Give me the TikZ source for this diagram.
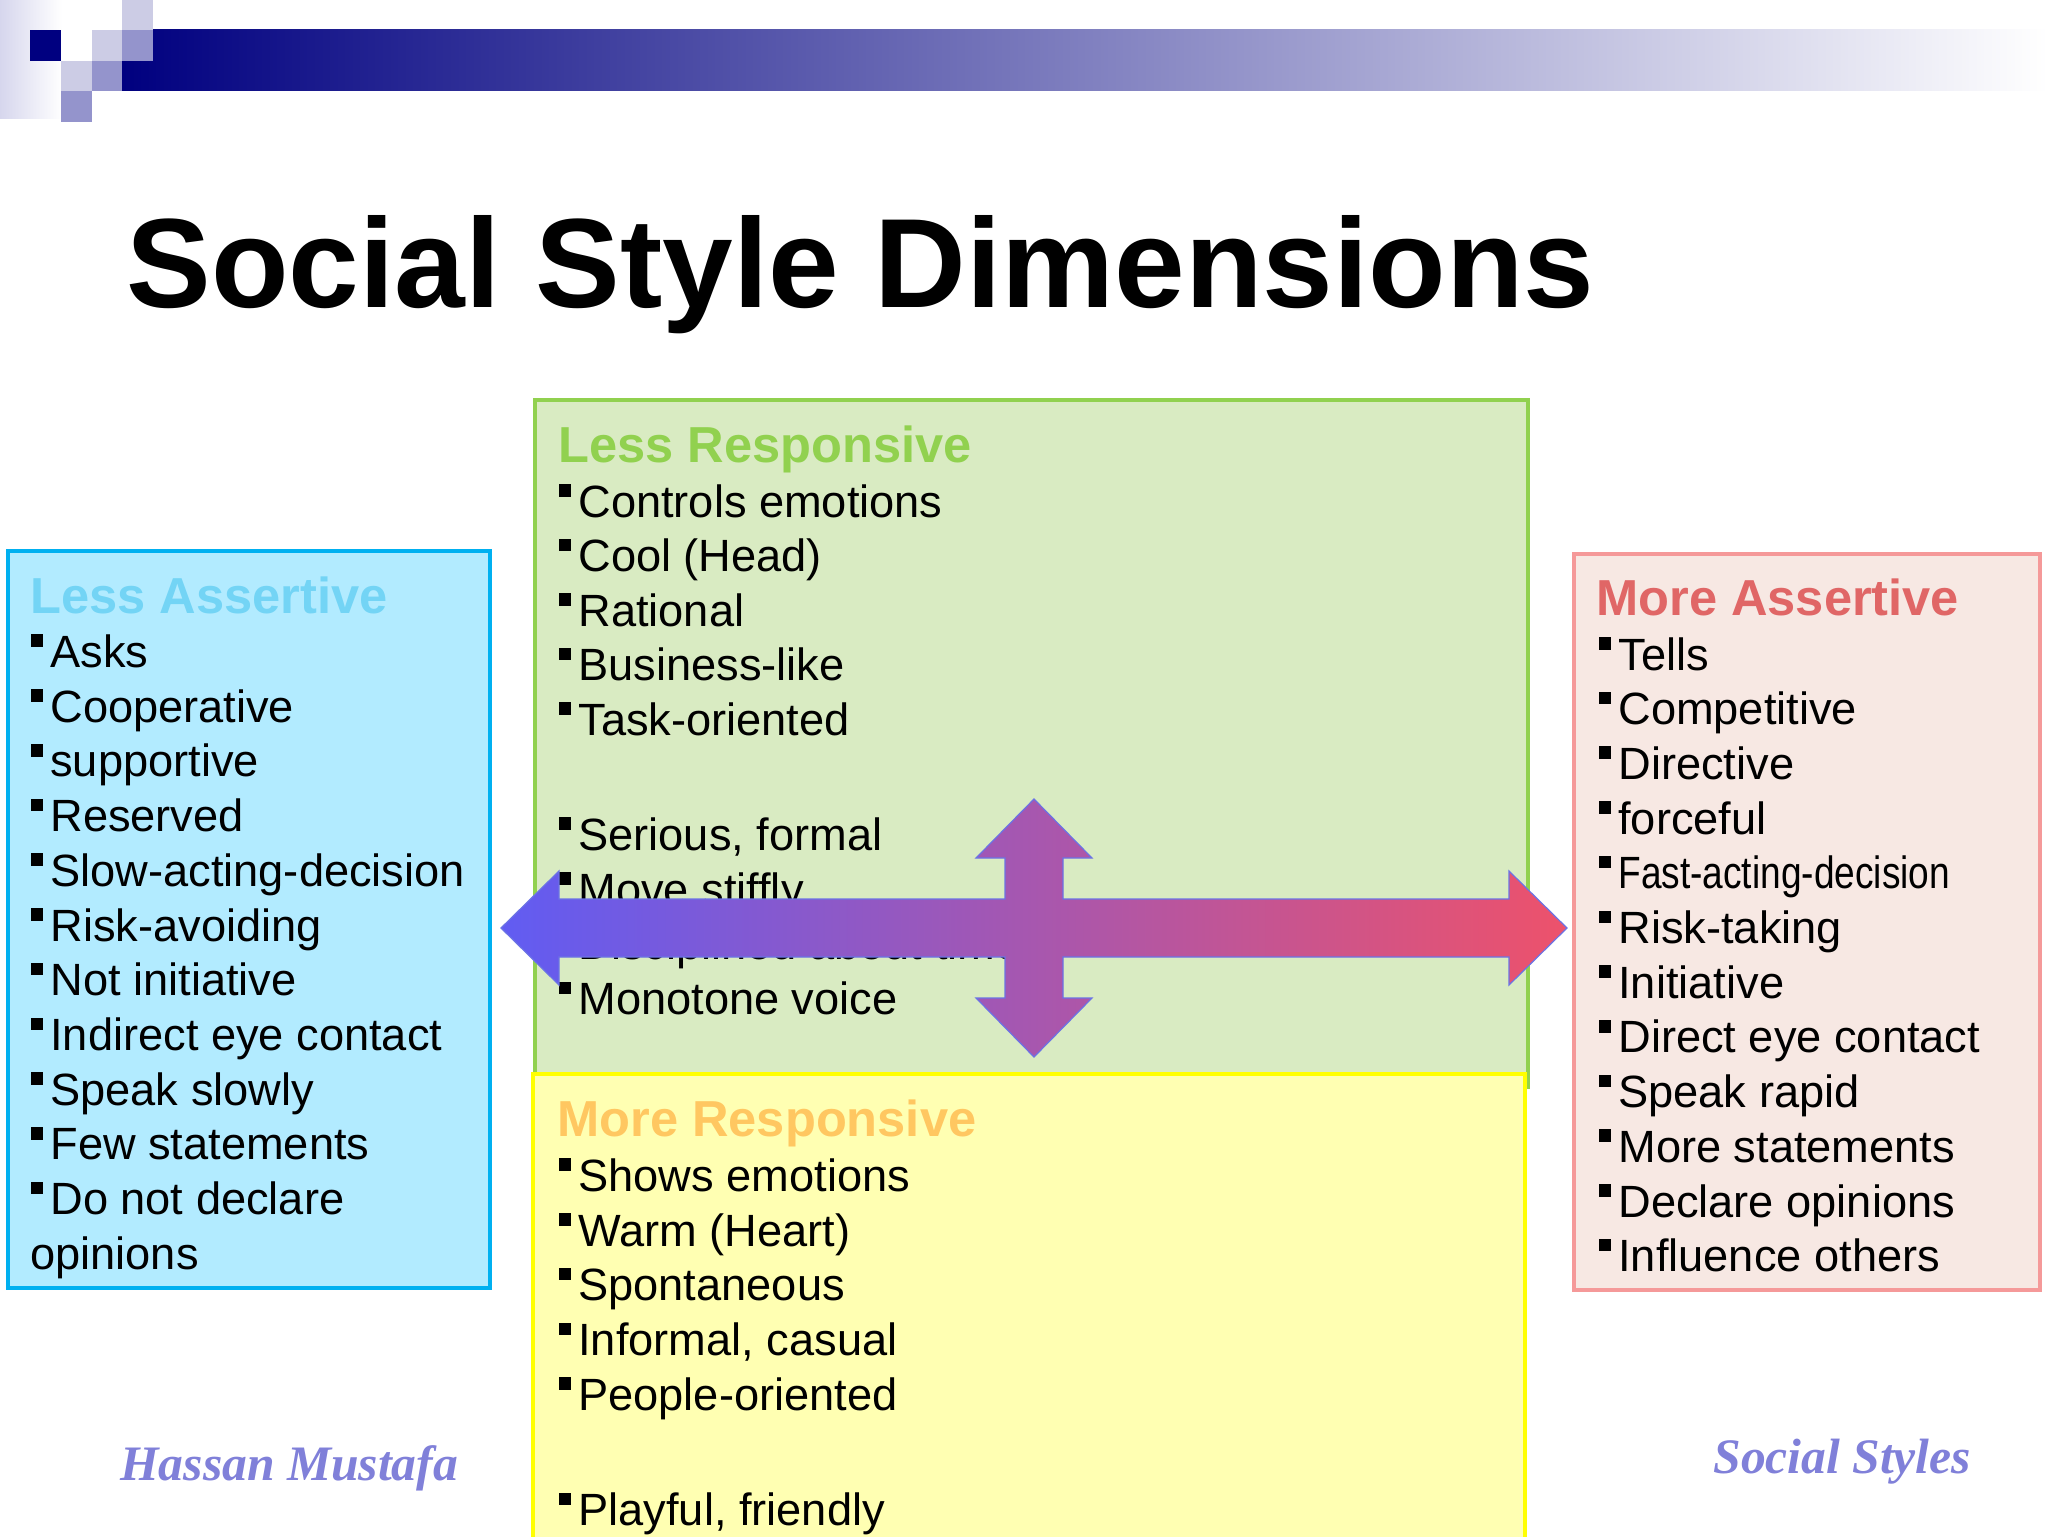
\documentclass[tikz,border=0pt]{standalone}
\usepackage{fontspec}
\setmainfont{Liberation Sans}
\newfontfamily\footfont{Liberation Serif}
\usetikzlibrary{shadings}
\definecolor{navy}{rgb}{0,0,0.5}
\definecolor{sqlight}{rgb}{0.80,0.80,0.90}
\definecolor{sqmed}{rgb}{0.58,0.58,0.80}
\definecolor{sidefade}{rgb}{0.84,0.84,0.93}
\definecolor{grfill}{rgb}{0.85,0.92,0.76}
\definecolor{grline}{rgb}{0.57,0.82,0.31}
\definecolor{yefill}{rgb}{1,1,0.70}
\definecolor{yeline}{rgb}{1,1,0}
\definecolor{blfill}{rgb}{0.70,0.92,1}
\definecolor{blline}{rgb}{0,0.69,0.94}
\definecolor{pkfill}{rgb}{0.97,0.91,0.89}
\definecolor{pkline}{rgb}{0.96,0.60,0.60}
\definecolor{hgreen}{rgb}{0.57,0.82,0.31}
\definecolor{hblue}{rgb}{0.45,0.83,0.96}
\definecolor{hpink}{rgb}{0.88,0.40,0.40}
\definecolor{hyellow}{rgb}{1,0.78,0.38}
\definecolor{arrL}{rgb}{0.38,0.36,0.95}
\definecolor{arrM}{rgb}{0.62,0.33,0.70}
\definecolor{arrR}{rgb}{0.93,0.32,0.42}
\definecolor{arrline}{rgb}{0.42,0.45,0.90}
\definecolor{footc}{rgb}{0.50,0.50,0.85}
\newcommand{\sqbul}{\rule[0.45em]{0.26em}{0.28em}\hspace{0.16em}}
\tikzset{
  panel/.style={line width=2pt},
  body/.style={anchor=base west, inner sep=0pt, font=\fontsize{22.6}{27}\selectfont},
  head/.style={anchor=base west, inner sep=0pt, font=\bfseries\fontsize{25.3}{30}\selectfont},
  foot/.style={anchor=base west, inner sep=0pt, text=footc, font=\footfont\bfseries\itshape\fontsize{24.8}{28}\selectfont},
}
\begin{document}
\begin{tikzpicture}[x=0.5pt,y=-0.5pt]
\useasboundingbox (0,0) rectangle (2048,1536);
\clip (0,0) rectangle (2048,1536);
\fill[white] (0,0) rectangle (2048,1536);
% header decoration
\shade[left color=sidefade, right color=white] (0,0) rectangle (62,118);
\shade[left color=navy, right color=white] (122,30) rectangle (2048,91);
\fill[navy] (30,30) rectangle (61,61);
\fill[sqlight] (122,0) rectangle (153,30);
\fill[sqlight] (92,30) rectangle (122,61);
\fill[sqlight] (61,61) rectangle (92,91);
\fill[sqmed] (122,30) rectangle (153,61);
\fill[sqmed] (92,61) rectangle (122,91);
\fill[sqmed] (61,91) rectangle (92,122);
% title
\node[anchor=base west, inner sep=0pt, font=\bfseries\fontsize{63.5}{70}\selectfont] (title) at (126,307) {Social Style Dimensions};
% panels
\draw[panel, draw=grline, fill=grfill] (535,400) rectangle (1528,1087);
\draw[panel, draw=yeline, fill=yefill] (533,1074) rectangle (1525,1560);
\draw[panel, draw=blline, fill=blfill] (8,551) rectangle (490,1288);
\draw[panel, draw=pkline, fill=pkfill] (1574,554) rectangle (2040,1290);
% green panel text
\node[head, text=hgreen] (ghead) at (558,462) {Less Responsive};
\foreach \t [count=\i from 0] in {Controls emotions,Cool (Head),Rational,Business-like,Task-oriented}
  \node[body] (g\i) at (559,{517.2+54.5*\i}) {\sqbul\t};
\foreach \t [count=\i from 0] in {{Serious, formal},Move stiffly,Disciplined about time,Monotone voice}
  \node[body] (gg\i) at (559,{850.3+54.8*\i}) {\sqbul\t};
% yellow panel text
\node[head, text=hyellow] (yhead) at (557,1136.3) {More Responsive};
\foreach \t [count=\i from 0] in {Shows emotions,Warm (Heart),Spontaneous,{Informal, casual},People-oriented}
  \node[body] (y\i) at (559,{1191.2+54.8*\i}) {\sqbul\t};
\node[body] (y5) at (559,1525.5) {\sqbul Playful, friendly};
% blue panel text
\node[head, text=hblue] (bhead) at (30,613.9) {Less Assertive};
\foreach \t [count=\i from 0] in {Asks,Cooperative,supportive,Reserved,Slow-acting-decision,Risk-avoiding,Not initiative,Indirect eye contact,Speak slowly,Few statements,Do not declare}
  \node[body] (b\i) at (31,{667.4+54.73*\i}) {\sqbul\t};
\node[body] (b11) at (30,1269.5) {opinions};
% pink panel text
\node[head, text=hpink] (phead) at (1596,615.2) {More Assertive};
\foreach \t [count=\i from 0] in {Tells,Competitive,Directive,forceful}
  \node[body] (p\i) at (1599,{670+54.7*\i}) {\sqbul\t};
\node[body] (p4) at (1599,{670+54.7*4}) {\sqbul\scalebox{0.82}[1]{Fast-acting-decision}};
\foreach \t [count=\i from 5] in {Risk-taking,Initiative,Direct eye contact,Speak rapid,More statements,Declare opinions,Influence others}
  \node[body] (p\i) at (1599,{670+54.7*\i}) {\sqbul\t};
% quad arrow
\shade[left color=arrL, middle color=arrM, right color=arrR, draw=arrline, line width=0.6pt]
  (1034,799) -- (1092,858) -- (1063,858) -- (1063,899) -- (1509,899) -- (1509,871)
  -- (1567,928) -- (1509,985) -- (1509,957) -- (1063,957) -- (1063,998) -- (1092,998)
  -- (1034,1057) -- (976,998) -- (1005,998) -- (1005,957) -- (559,957) -- (559,985)
  -- (501,928) -- (559,871) -- (559,899) -- (1005,899) -- (1005,858) -- (976,858) -- cycle;
% footer
\node[foot] (author) at (120,1480) {Hassan Mustafa};
\node[foot] (tag) at (1713,1473) {Social Styles};
\end{tikzpicture}
\end{document}
